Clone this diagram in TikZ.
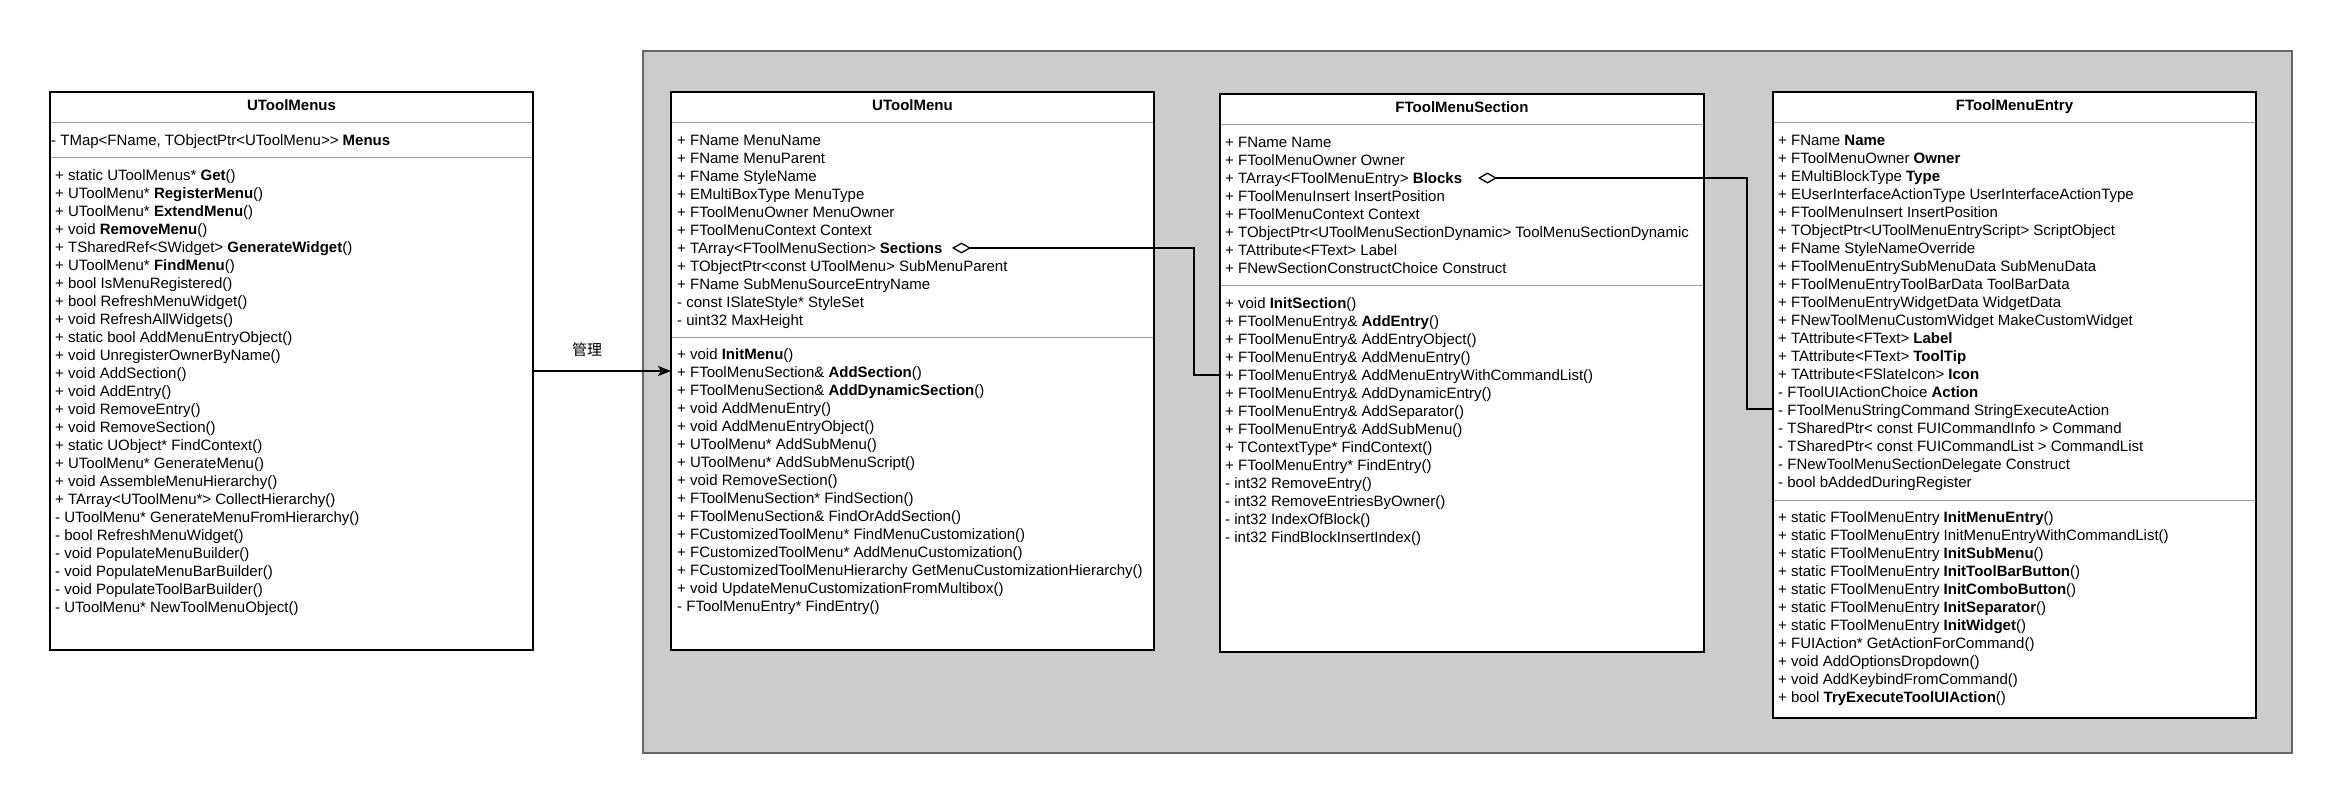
\documentclass[tikz,border=0pt]{standalone}
\usepackage{fontspec}
\setmainfont{Liberation Sans}
\newfontfamily\cjk{Noto Sans CJK SC}
\usetikzlibrary{arrows.meta}
\definecolor{sepgray}{HTML}{A0A0A0}
\definecolor{regiongray}{HTML}{CCCCCC}
\definecolor{bordergray}{HTML}{666666}
\tikzset{
  classbox/.style={draw=black, line width=1.4pt, fill=white, inner sep=0pt, outer sep=0pt, anchor=north west},
  regionbox/.style={draw=bordergray, line width=1.3pt, fill=regiongray, inner sep=0pt, outer sep=0pt, anchor=north west},
  member/.style={anchor=base west, inner sep=0pt, font=\fontsize{15pt}{18pt}\selectfont},
  ctitle/.style={anchor=base, inner sep=0pt, font=\fontsize{15pt}{18pt}\selectfont\bfseries},
  sepline/.style={draw=sepgray, line width=1pt},
  conn/.style={draw=black, line width=1.5pt},
  agg/.style={conn, -{Diamond[open, length=19pt, width=11pt, line width=1.3pt]}},
  manages/.style={conn, -{Stealth[length=13pt, width=10pt, inset=3pt]}},
}
\begin{document}
\begin{tikzpicture}[x=1pt, y=-1pt]
\useasboundingbox (0,0) rectangle (2342,804);
\fill[white] (0,0) rectangle (2342,804);

% package region
\node[regionbox, minimum width=1649pt, minimum height=702pt] (pkg) at (643,51) {};

% ---------- UToolMenus ----------
\node[classbox, minimum width=483pt, minimum height=558pt] (menus) at (50,92) {};
\draw[sepline] (51,122) -- (532,122);
\draw[sepline] (51,157) -- (532,157);
\node[ctitle] (menus-t) at (291.5,110) {UToolMenus};
\node[member] (menus-a0) at (51,145) {- TMap<FName, TObjectPtr<UToolMenu>{}> \textbf{Menus}};
\foreach \t [count=\i from 0] in {
  + static UToolMenus* \textbf{Get}(),
  + UToolMenu* \textbf{RegisterMenu}(),
  + UToolMenu* \textbf{ExtendMenu}(),
  + void \textbf{RemoveMenu}(),
  + TSharedRef<SWidget> \textbf{GenerateWidget}(),
  + UToolMenu* \textbf{FindMenu}(),
  + bool IsMenuRegistered(),
  + bool RefreshMenuWidget(),
  + void RefreshAllWidgets(),
  + static bool AddMenuEntryObject(),
  + void UnregisterOwnerByName(),
  + void AddSection(),
  + void AddEntry(),
  + void RemoveEntry(),
  + void RemoveSection(),
  + static UObject* FindContext(),
  + UToolMenu* GenerateMenu(),
  + void AssembleMenuHierarchy(),
  + TArray<UToolMenu*> CollectHierarchy(),
  - UToolMenu* GenerateMenuFromHierarchy(),
  - bool RefreshMenuWidget(),
  - void PopulateMenuBuilder(),
  - void PopulateMenuBarBuilder(),
  - void PopulateToolBarBuilder(),
  - UToolMenu* NewToolMenuObject()}
  \node[member] (menus-m\i) at (55,{180+18*\i}) {\t};

% ---------- UToolMenu ----------
\node[classbox, minimum width=483pt, minimum height=558pt] (menu) at (671,92) {};
\draw[sepline] (672,122) -- (1153,122);
\draw[sepline] (672,337) -- (1153,337);
\node[ctitle] (menu-t) at (912.5,110) {UToolMenu};
\foreach \t [count=\i from 0] in {
  + FName MenuName,
  + FName MenuParent,
  + FName StyleName,
  + EMultiBoxType MenuType,
  + FToolMenuOwner MenuOwner,
  + FToolMenuContext Context,
  + TArray<FToolMenuSection> \textbf{Sections},
  + TObjectPtr<const UToolMenu> SubMenuParent,
  + FName SubMenuSourceEntryName,
  - const ISlateStyle* StyleSet,
  - uint32 MaxHeight}
  \node[member] (menu-a\i) at (677,{145+18*\i}) {\t};
\foreach \t [count=\i from 0] in {
  + void \textbf{InitMenu}(),
  + FToolMenuSection\& \textbf{AddSection}(),
  + FToolMenuSection\& \textbf{AddDynamicSection}(),
  + void AddMenuEntry(),
  + void AddMenuEntryObject(),
  + UToolMenu* AddSubMenu(),
  + UToolMenu* AddSubMenuScript(),
  + void RemoveSection(),
  + FToolMenuSection* FindSection(),
  + FToolMenuSection\& FindOrAddSection(),
  + FCustomizedToolMenu* FindMenuCustomization(),
  + FCustomizedToolMenu* AddMenuCustomization(),
  + FCustomizedToolMenuHierarchy GetMenuCustomizationHierarchy(),
  + void UpdateMenuCustomizationFromMultibox(),
  - FToolMenuEntry* FindEntry()}
  \node[member] (menu-m\i) at (677,{359+18*\i}) {\t};

% ---------- FToolMenuSection ----------
\node[classbox, minimum width=484pt, minimum height=558pt] (section) at (1220,94) {};
\draw[sepline] (1221,124) -- (1703,124);
\draw[sepline] (1221,285) -- (1703,285);
\node[ctitle] (section-t) at (1462,112) {FToolMenuSection};
\foreach \t [count=\i from 0] in {
  + FName Name,
  + FToolMenuOwner Owner,
  + TArray<FToolMenuEntry> \textbf{Blocks},
  + FToolMenuInsert InsertPosition,
  + FToolMenuContext Context,
  + TObjectPtr<UToolMenuSectionDynamic> ToolMenuSectionDynamic,
  + TAttribute<FText> Label,
  + FNewSectionConstructChoice Construct}
  \node[member] (section-a\i) at (1225,{147+18*\i}) {\t};
\foreach \t [count=\i from 0] in {
  + void \textbf{InitSection}(),
  + FToolMenuEntry\& \textbf{AddEntry}(),
  + FToolMenuEntry\& AddEntryObject(),
  + FToolMenuEntry\& AddMenuEntry(),
  + FToolMenuEntry\& AddMenuEntryWithCommandList(),
  + FToolMenuEntry\& AddDynamicEntry(),
  + FToolMenuEntry\& AddSeparator(),
  + FToolMenuEntry\& AddSubMenu(),
  + TContextType* FindContext(),
  + FToolMenuEntry* FindEntry(),
  - int32 RemoveEntry(),
  - int32 RemoveEntriesByOwner(),
  - int32 IndexOfBlock(),
  - int32 FindBlockInsertIndex()}
  \node[member] (section-m\i) at (1225,{308+18*\i}) {\t};

% ---------- FToolMenuEntry ----------
\node[classbox, minimum width=483pt, minimum height=626pt] (entry) at (1773,92) {};
\draw[sepline] (1774,122) -- (2255,122);
\draw[sepline] (1774,500) -- (2255,500);
\node[ctitle] (entry-t) at (2014.5,110) {FToolMenuEntry};
\foreach \t [count=\i from 0] in {
  + FName \textbf{Name},
  + FToolMenuOwner \textbf{Owner},
  + EMultiBlockType \textbf{Type},
  + EUserInterfaceActionType UserInterfaceActionType,
  + FToolMenuInsert InsertPosition,
  + TObjectPtr<UToolMenuEntryScript> ScriptObject,
  + FName StyleNameOverride,
  + FToolMenuEntrySubMenuData SubMenuData,
  + FToolMenuEntryToolBarData ToolBarData,
  + FToolMenuEntryWidgetData WidgetData,
  + FNewToolMenuCustomWidget MakeCustomWidget,
  + TAttribute<FText> \textbf{Label},
  + TAttribute<FText> \textbf{ToolTip},
  + TAttribute<FSlateIcon> \textbf{Icon},
  - FToolUIActionChoice \textbf{Action},
  - FToolMenuStringCommand StringExecuteAction,
  - TSharedPtr< const FUICommandInfo > Command,
  - TSharedPtr< const FUICommandList > CommandList,
  - FNewToolMenuSectionDelegate Construct,
  - bool bAddedDuringRegister}
  \node[member] (entry-a\i) at (1778,{145+18*\i}) {\t};
\foreach \t [count=\i from 0] in {
  + static FToolMenuEntry \textbf{InitMenuEntry}(),
  + static FToolMenuEntry InitMenuEntryWithCommandList(),
  + static FToolMenuEntry \textbf{InitSubMenu}(),
  + static FToolMenuEntry \textbf{InitToolBarButton}(),
  + static FToolMenuEntry \textbf{InitComboButton}(),
  + static FToolMenuEntry \textbf{InitSeparator}(),
  + static FToolMenuEntry \textbf{InitWidget}(),
  + FUIAction* GetActionForCommand(),
  + void AddOptionsDropdown(),
  + void AddKeybindFromCommand(),
  + bool \textbf{TryExecuteToolUIAction}()}
  \node[member] (entry-m\i) at (1778,{522+18*\i}) {\t};

% ---------- connectors ----------
\coordinate (secdiam) at (952,248);
\coordinate (blkdiam) at (1478,178);
\draw[agg] (section.west |- 0,375) -- (1194,375) -- (1194,248) -- (secdiam);
\draw[agg] (entry.west |- 0,409) -- (1747,409) -- (1747,178) -- (blkdiam);
\draw[manages] (menus.east |- 0,371) -- (menu.west |- 0,371);
\node[inner sep=0pt, font=\fontsize{15pt}{18pt}\cjk] (mlabel) at (587,350) {管理};
\end{tikzpicture}
\end{document}
